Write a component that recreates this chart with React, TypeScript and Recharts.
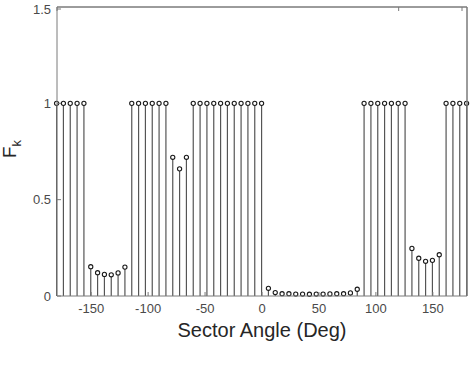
import { ComposedChart, Bar, XAxis, YAxis, ReferenceLine } from "recharts";

// stem positions (deg) and F_k values
const angles = [
  -180, -174, -168, -162, -156, -150, -144, -138, -132, -126, -120,
  -114, -108, -102, -96, -90, -84, -78, -72, -66, -60, -54, -48, -42,
  -36, -30, -24, -18, -12, -6, 0, 6, 12, 18, 24, 30, 36, 42, 48, 54,
  60, 66, 72, 78, 84, 90, 96, 102, 108, 114, 120, 126, 132, 138, 144,
  150, 156, 162, 168, 174, 180,
];

const fk = [
  1, 1, 1, 1, 1, 0.152, 0.121, 0.112, 0.11, 0.12, 0.15,
  1, 1, 1, 1, 1, 1, 0.72, 0.66, 0.72, 1, 1, 1, 1,
  1, 1, 1, 1, 1, 1, 1, 0.04, 0.018, 0.012, 0.012, 0.01, 0.01, 0.009, 0.01, 0.01,
  0.011, 0.012, 0.012, 0.016, 0.035, 1, 1, 1, 1, 1, 1, 1, 0.247, 0.196, 0.18,
  0.185, 0.214, 1, 1, 1, 1,
];

const xTicks = [-150, -100, -50, 0, 50, 100, 150];
const yTicks = [0, 0.5, 1, 1.5];

const data = angles.map((a, i) => ({ angle: a, fk: fk[i] }));

const FONT = '"Liberation Sans", Arial, Helvetica, sans-serif';
const AXIS = "#7a7a7a";
const TICK_TEXT = "#4a4a4a";

function Stem(props: any) {
  const { x, y, width, height } = props;
  const cx = x + width / 2;
  return (
    <g>
      <line x1={cx} y1={y + height} x2={cx} y2={y} stroke="#555" strokeWidth={1.2} />
      <circle cx={cx} cy={y} r={2.1} fill="#fff" stroke="#1a1a1a" strokeWidth={1.1} />
    </g>
  );
}

// MATLAB style: tick marks point into the axes box
function BottomTick({ x, y, payload }: any) {
  return (
    <g>
      <line x1={x} y1={y} x2={x} y2={y - 4} stroke={AXIS} />
      <text x={x} y={y + 17} textAnchor="middle" fontSize={13} fontFamily={FONT} fill={TICK_TEXT}>
        {payload.value}
      </text>
    </g>
  );
}

function TopTick({ x, y }: any) {
  return <line x1={x} y1={y} x2={x} y2={y + 4} stroke={AXIS} />;
}

function LeftTick({ x, y, payload }: any) {
  return (
    <g>
      <line x1={x} y1={y} x2={x + 4} y2={y} stroke={AXIS} />
      <text x={x - 6} y={y} dy="0.35em" textAnchor="end" fontSize={13} fontFamily={FONT} fill={TICK_TEXT}>
        {payload.value}
      </text>
    </g>
  );
}

function RightTick({ x, y }: any) {
  return <line x1={x} y1={y} x2={x - 4} y2={y} stroke={AXIS} />;
}

export default function App() {
  return (
    <div style={{ position: "absolute", left: 0, top: 0, background: "#fff" }}>
      <ComposedChart
        width={474}
        height={366}
        data={data}
        margin={{ top: 6, right: 6, bottom: 0, left: 0 }}
      >
        <XAxis
          dataKey="angle"
          type="number"
          domain={[-180, 180]}
          ticks={xTicks}
          height={70}
          tickSize={0}
          tickMargin={0}
          tickLine={false}
          tick={<BottomTick />}
          axisLine={{ stroke: AXIS }}
          label={{
            value: "Sector Angle (Deg)",
            position: "insideBottom",
            offset: 29,
            fill: "#262626",
            fontSize: 20,
            fontFamily: FONT,
          }}
        />
        <XAxis
          xAxisId="top"
          orientation="top"
          type="number"
          domain={[-180, 180]}
          ticks={xTicks}
          height={1}
          tickSize={0}
          tickMargin={0}
          tickLine={false}
          tick={<TopTick />}
          axisLine={{ stroke: AXIS }}
        />
        <YAxis
          type="number"
          domain={[0, 1.5]}
          ticks={yTicks}
          width={57}
          tickSize={0}
          tickMargin={0}
          tickLine={false}
          tick={<LeftTick />}
          axisLine={{ stroke: AXIS }}
          label={{
            content: () => (
              <text
                transform="translate(16,149) rotate(-90)"
                textAnchor="middle"
                fontFamily={FONT}
                fill="#262626"
              >
                <tspan fontSize={19}>F</tspan>
                <tspan fontSize={13} dy={5}>k</tspan>
              </text>
            ),
          }}
        />
        <YAxis
          yAxisId="right"
          orientation="right"
          type="number"
          domain={[0, 1.5]}
          ticks={yTicks}
          width={1}
          tickSize={0}
          tickMargin={0}
          tickLine={false}
          tick={<RightTick />}
          axisLine={{ stroke: AXIS }}
        />
        <ReferenceLine y={1.5} stroke={AXIS} ifOverflow="visible" />
        <ReferenceLine x={180} stroke={AXIS} ifOverflow="visible" />
        <Bar dataKey="fk" barSize={2} shape={<Stem />} isAnimationActive={false} />
      </ComposedChart>
    </div>
  );
}
